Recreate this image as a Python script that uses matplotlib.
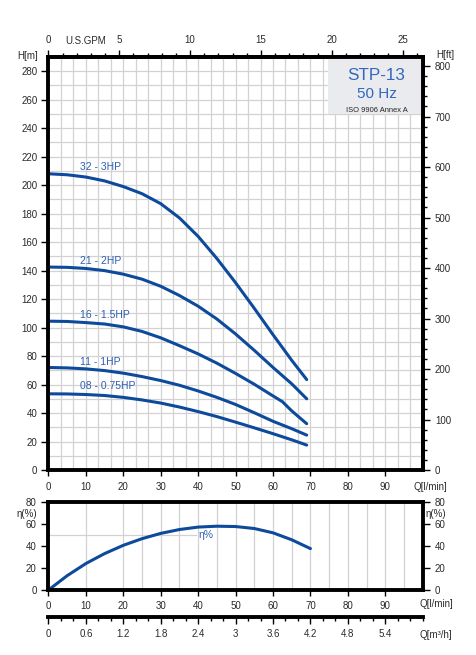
import matplotlib
matplotlib.use("Agg")
import matplotlib.pyplot as plt
from matplotlib.ticker import MultipleLocator, FixedLocator
from matplotlib.patches import Rectangle

plt.rcParams['font.family'] = ['Liberation Sans', 'DejaVu Sans']

# ---------------- data ----------------
Q = [0, 5, 10, 15, 20, 25, 30, 35, 40, 45, 50, 55, 60, 65, 69]
H_32_3HP = [208, 207.3, 205.7, 203, 199, 194, 187, 177, 164, 148.5, 131.5, 113.5, 95, 77, 63.5]
H_21_2HP = [142.5, 142.3, 141.5, 140, 137.5, 134, 129, 122.5, 115, 106, 95.5, 84, 72, 60.5, 50]
Q_16 = [0, 5, 10, 15, 20, 25, 30, 35, 40, 45, 50, 55, 60, 62.5, 65, 69]
H_16_15HP = [104.5, 104.3, 103.5, 102.5, 100.5, 97.3, 92.8, 87.3, 81.5, 75, 67.8, 60.2, 52, 48, 41.5, 32.5]
H_11_1HP = [72, 71.7, 71, 69.8, 68, 65.6, 62.8, 59.5, 55.5, 51, 46, 40.2, 34.2, 29, 24.5]
H_08_075HP = [53.5, 53.4, 53, 52.3, 51, 49.2, 47, 44.2, 41, 37.5, 33.6, 29.6, 25.5, 21.2, 17.5]

curve_labels = ["32 - 3HP", "21 - 2HP", "16 - 1.5HP", "11 - 1HP", "08 - 0.75HP"]
label_H = [212.6, 146.9, 108.8, 76, 59]

Q_eff = [0, 5, 10, 15, 20, 25, 30, 35, 40, 45, 50, 55, 60, 65, 70]
eta = [0, 13, 24, 33, 40.5, 46.5, 51.3, 54.8, 57, 57.8, 57.5, 55.7, 51.8, 45.5, 37.5]

q_ticks = [0, 10, 20, 30, 40, 50, 60, 70, 80, 90]
h_ticks = list(range(0, 281, 20))
ft_ticks = list(range(0, 801, 100))
gpm_ticks = [0, 5, 10, 15, 20, 25]
eta_ticks = [0, 20, 40, 60, 80]
m3h_ticks = [0, 0.6, 1.2, 1.8, 2.4, 3.0, 3.6, 4.2, 4.8, 5.4]
m3h_labels = ["0", "0.6", "1.2", "1.8", "2.4", "3", "3.6", "4.2", "4.8", "5.4"]
eta_grid_q = [10, 20, 25, 30, 35, 40, 45, 50, 55, 60, 65, 70, 75, 80, 85, 90, 95]

# ---------------- style ----------------
W, Hh = 477, 655
BLUE = '#0d4a9c'
LBLUE = '#2e5fb0'
GRID = '#d2d2d2'
TXT = '#2a2a2a'
SPW = 2.8
FS = 7

fig = plt.figure(figsize=(W / 100, Hh / 100), dpi=100)

L, R = 48.5, 422.7
def fx(px):
    return px / W
def fy(py):
    return 1 - py / Hh

ax = fig.add_axes([fx(L), fy(470), fx(R - L), (470 - 57) / Hh])
ax2 = fig.add_axes([fx(L), fy(590), fx(R - L), (590 - 501.7) / Hh])
ax3 = fig.add_axes([fx(L), fy(616.7), fx(R - L), 0.00001])

# ---------------- main axes ----------------
ax.set_xlim(0, 100)
ax.set_ylim(0, 290)
ax.xaxis.set_major_locator(FixedLocator(q_ticks))
ax.xaxis.set_minor_locator(MultipleLocator(10 / 3))
ax.yaxis.set_major_locator(FixedLocator(h_ticks))
ax.yaxis.set_minor_locator(MultipleLocator(10))
ax.tick_params(which='minor', length=0)
ax.tick_params(axis='x', which='major', direction='out', length=4, width=1, pad=4.4,
               labelsize=FS, labelcolor=TXT, color='black')
ax.tick_params(axis='y', which='major', direction='out', length=5, width=1, pad=3,
               labelsize=FS, labelcolor=TXT, color='black')
ax.grid(which='both', color=GRID, linewidth=0.9, zorder=0)
ax.set_axisbelow(True)
for s in ax.spines.values():
    s.set_linewidth(SPW)
    s.set_zorder(5)

series = [(Q, H_32_3HP), (Q, H_21_2HP), (Q_16, H_16_15HP), (Q, H_11_1HP), (Q, H_08_075HP)]
for (qq, hh), lab, ly in zip(series, curve_labels, label_H):
    ax.plot(qq, hh, color=BLUE, lw=2.2, solid_capstyle='round', solid_joinstyle='round', zorder=3)
    ax.text(8.3, ly, lab, color=LBLUE, fontsize=7.5, ha='left', va='center', zorder=4)

ax.text((430 - L) / (R - L), -16.7 / 413, "Q[l/min]", transform=ax.transAxes,
        ha='center', va='center', fontsize=FS, color=TXT)

# info box
bx0 = (328 - L) / (R - L)
by0 = (470 - 114) / 413
ax.add_patch(Rectangle((bx0, by0), 1 - bx0, 1 - by0, transform=ax.transAxes,
                       facecolor='#e9ebee', edgecolor='none', zorder=2))
fig.text(fx(376), fy(75), "STP-13", color='#3367bd', fontsize=12.3, ha='center', va='center')
fig.text(fx(376.7), fy(94), "50 Hz", color='#3367bd', fontsize=11, ha='center', va='center')
fig.text(fx(377.3), fy(110), "ISO 9906 Annex A", color='#222222', fontsize=5.4, ha='center', va='center')

# right ft axis
secy = ax.secondary_yaxis('right', functions=(lambda h: h * 818 / 290, lambda f: f * 290 / 818))
secy.yaxis.set_major_locator(FixedLocator(ft_ticks))
secy.yaxis.set_minor_locator(MultipleLocator(20))
secy.tick_params(which='major', direction='out', length=5, width=1, pad=3.8,
                 labelsize=FS, labelcolor=TXT)
secy.tick_params(which='minor', direction='out', length=3, width=1)
secy.spines['right'].set_linewidth(SPW)

# top GPM axis
secx = ax.secondary_xaxis('top', functions=(lambda q: q / 3.785, lambda g: g * 3.785))
secx.xaxis.set_major_locator(FixedLocator(gpm_ticks))
secx.xaxis.set_minor_locator(MultipleLocator(1))
secx.tick_params(which='major', direction='out', length=5, width=1, pad=3.6,
                 labelsize=FS, labelcolor=TXT)
secx.tick_params(which='minor', direction='out', length=3, width=1)
secx.spines['top'].set_linewidth(SPW)

fig.text(fx(86), fy(41), "U.S.GPM", fontsize=FS, color=TXT, ha='center', va='center')
fig.text(fx(38), fy(55.7), "H[m]", fontsize=FS, color=TXT, ha='right', va='center')
fig.text(fx(436), fy(55), "H[ft]", fontsize=FS, color=TXT, ha='left', va='center')

# ---------------- efficiency axes ----------------
ax2.set_xlim(0, 100)
ax2.set_ylim(0, 80)
ax2.xaxis.set_major_locator(FixedLocator(q_ticks))
ax2.yaxis.set_major_locator(FixedLocator(eta_ticks))
for xg in eta_grid_q:
    ax2.axvline(xg, color=GRID, lw=0.9, zorder=0)
ax2.plot([0, 39.5], [50, 50], color=GRID, lw=0.9, zorder=0)
ax2.plot(Q_eff, eta, color=BLUE, lw=2.2, solid_capstyle='round', solid_joinstyle='round', zorder=3)
ax2.text(40, 49.8, "η%", color=LBLUE, fontsize=7.5, ha='left', va='center')
ax2.tick_params(axis='x', direction='out', length=4, width=1, pad=3.7,
                labelsize=FS, labelcolor=TXT)
ax2.tick_params(axis='y', direction='out', length=5, width=1, pad=3.5,
                labelsize=FS, labelcolor=TXT, right=True, labelright=True)
for s in ax2.spines.values():
    s.set_linewidth(SPW)
    s.set_zorder(5)
ax2.text((436 - L) / (R - L), -(604.3 - 590) / 88.3, "Q[l/min]", transform=ax2.transAxes,
         ha='center', va='center', fontsize=FS, color=TXT)
fig.text(fx(37), fy(514), "η(%)", fontsize=FS, color=TXT, ha='right', va='center')
fig.text(fx(426), fy(514), "η(%)", fontsize=FS, color=TXT, ha='left', va='center')

# ---------------- m3/h axis ----------------
ax3.set_xlim(0, 6)
ax3.set_ylim(0, 1)
ax3.set_yticks([])
for k in ['top', 'left', 'right']:
    ax3.spines[k].set_visible(False)
ax3.spines['bottom'].set_linewidth(SPW)
ax3.patch.set_visible(False)
ax3.xaxis.set_major_locator(FixedLocator(m3h_ticks))
ax3.set_xticklabels(m3h_labels)
ax3.xaxis.set_minor_locator(MultipleLocator(0.2))
ax3.tick_params(which='major', direction='out', length=5, width=1, pad=3.5,
                labelsize=FS, labelcolor=TXT)
ax3.tick_params(which='minor', direction='out', length=3, width=1)
fig.text(fx(436), fy(635), "Q[m³/h]", fontsize=FS, color=TXT, ha='center', va='center')

fig.savefig("out.png", dpi=100)
